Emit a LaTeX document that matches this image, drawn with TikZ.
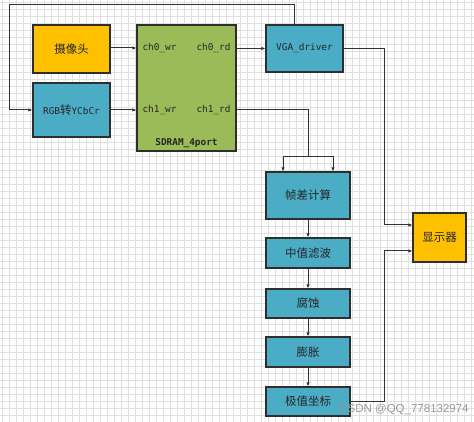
\documentclass[tikz,border=0pt]{standalone}
\usepackage{fontspec}
\usetikzlibrary{arrows.meta}
\newfontfamily\cjk{Noto Sans CJK SC}
\newfontfamily\mono{DejaVu Sans Mono}
\newfontfamily\wmfont{Liberation Sans}
\definecolor{orangebox}{HTML}{FFC000}
\definecolor{bluebox}{HTML}{4BACC6}
\definecolor{greenbox}{HTML}{9BBB59}
\definecolor{edge}{HTML}{2E2E2E}
\definecolor{wire}{HTML}{333333}
\definecolor{gridc}{HTML}{E0E0E0}
\tikzset{
  box/.style={draw=edge, line width=1.2pt, inner sep=0pt, text=black!85},
  orangestyle/.style={box, fill=orangebox},
  bluestyle/.style={box, fill=bluebox},
  greenstyle/.style={box, fill=greenbox},
  cjktext/.style={font=\cjk\fontsize{11.5}{13}\selectfont},
  monotext/.style={font=\mono\fontsize{9.4}{11}\selectfont, text=black!85},
  monobold/.style={font=\mono\bfseries\fontsize{9.4}{11}\selectfont, text=black!85},
  wire/.style={draw=wire, line width=1pt},
  arr/.style={wire, -{Latex[length=4pt,width=3.5pt]}},
}
\begin{document}
\begin{tikzpicture}[x=1pt,y=-1pt]
\useasboundingbox (0,0) rectangle (474,422);
\fill[white] (0,0) rectangle (474,422);
\foreach \g in {2,9,...,474} \draw[gridc, line width=0.5pt] (\g,0) -- (\g,422);
\foreach \g in {2,9,...,422} \draw[gridc, line width=0.5pt] (0,\g) -- (474,\g);

% boxes
\node[orangestyle, minimum width=77pt, minimum height=48pt, cjktext] (cam) at (71.5,49) {摄像头};
\node[bluestyle, minimum width=77pt, minimum height=54pt, monotext] (rgb) at (71.5,110) {RGB{\cjk\fontsize{11.5}{13}\selectfont 转}YCbCr};
\node[greenstyle, minimum width=99pt, minimum height=126pt] (sdram) at (186.5,88) {};
\node[monotext, anchor=west] (p0w) at (139,48) {ch0\_wr};
\node[monotext, anchor=east] (p0r) at (234,48) {ch0\_rd};
\node[monotext, anchor=west] (p1w) at (139,110) {ch1\_wr};
\node[monotext, anchor=east] (p1r) at (234,110) {ch1\_rd};
\node[monobold] (sdlab) at (186.5,143) {SDRAM\_4port};
\node[bluestyle, minimum width=77pt, minimum height=47pt, monotext] (vga) at (304.5,48.5) {VGA\_driver};
\node[orangestyle, minimum width=53pt, minimum height=49pt, cjktext] (disp) at (439.5,237.5) {显示器};
\node[bluestyle, minimum width=84pt, minimum height=47pt, cjktext] (zc) at (308,195.5) {帧差计算};
\node[bluestyle, minimum width=84pt, minimum height=30pt, cjktext] (zz) at (308,253) {中值滤波};
\node[bluestyle, minimum width=84pt, minimum height=29pt, cjktext] (fs) at (308,303.5) {腐蚀};
\node[bluestyle, minimum width=84pt, minimum height=30pt, cjktext] (pz) at (308,352) {膨胀};
\node[bluestyle, minimum width=84pt, minimum height=29pt, cjktext] (jz) at (308,401.5) {极值坐标};

% helper coordinates
\coordinate (tl) at (9,5);
\coordinate (r1) at (384,225);
\coordinate (r2) at (384,251);
\coordinate (split) at (308,157);

% connectors
\draw[arr] (cam.east |- p0w.west) -- (sdram.west |- p0w.west);
\draw[arr] (rgb.east) -- (rgb.east -| sdram.west);
\draw[arr] (sdram.east |- vga.west) -- (vga.west);
\draw[arr] ([xshift=-10.5pt]vga.north) |- (tl) |- (rgb.west);
\draw[arr] (vga.east) -| (r1) -- (r1 -| disp.west);
\draw[arr] (jz.east) -| (r2) -- (r2 -| disp.west);
\draw[wire] (sdram.east |- rgb.east) -| (split);
\draw[arr] (split) -| ([xshift=-25pt]zc.north);
\draw[arr] (split) -| ([xshift=25pt]zc.north);
\draw[arr] (zc.south) -- (zz.north);
\draw[arr] (zz.south) -- (fs.north);
\draw[arr] (fs.south) -- (pz.north);
\draw[arr] (pz.south) -- (jz.north);

% watermark
\node[font=\wmfont\fontsize{11.5}{13}\selectfont, text=black!40] (wm) at (404,409) {CSDN @QQ\_778132974};
\end{tikzpicture}
\end{document}
